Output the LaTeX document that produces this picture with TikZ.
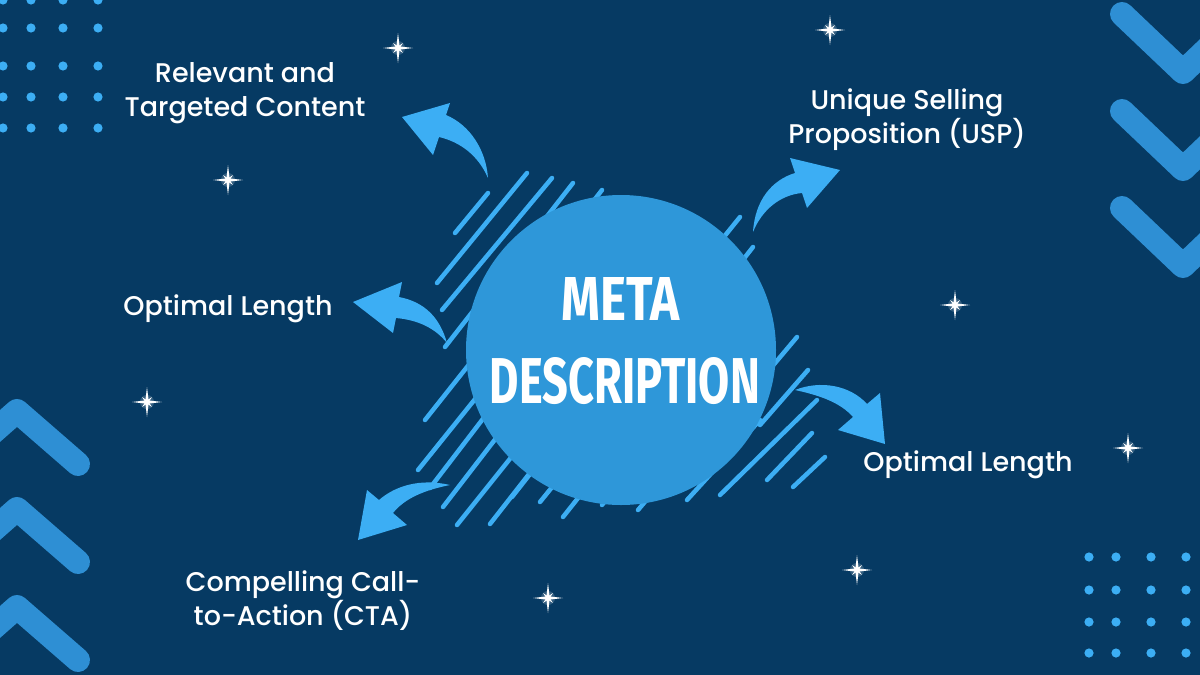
\documentclass[tikz,border=0pt]{standalone}
\usepackage{fontspec}
\setmainfont{Poppins}[UprightFont={* Medium}]
\newfontfamily\titlefont{Fira Sans}
\definecolor{bg}{HTML}{063A63}
\definecolor{disc}{HTML}{2E97D9}
\definecolor{bright}{HTML}{3CAEF4}
\definecolor{chev}{HTML}{2E8FD4}
\tikzset{
  hatch/.style={draw=bright, line width=4.5pt, line cap=round},
  chevron/.style={draw=chev, line width=24pt, line cap=round, line join=round},
  dotmark/.style={fill=bright},
  curvarrow/.style={fill=bright},
  label/.style={text=white, align=center, font=\fontsize{27}{34}\selectfont},
  sparkle/.pic={
    \fill[white,opacity=0.18] (0,0) circle (7);
    \fill[white] (0,-15) -- (1.6,-1.6) -- (15,0) -- (1.6,1.6) -- (0,15) -- (-1.6,1.6) -- (-15,0) -- (-1.6,-1.6) -- cycle;
    \fill[white,rotate=45] (0,-7) -- (1.2,-1.2) -- (7,0) -- (1.2,1.2) -- (0,7) -- (-1.2,1.2) -- (-7,0) -- (-1.2,-1.2) -- cycle;
    \fill[white] (0,0) circle (2.6);
  }
}
\begin{document}
\begin{tikzpicture}[x=1pt,y=-1pt]
\useasboundingbox (0,0) rectangle (1200,675);
\fill[bg] (0,0) rectangle (1200,675);

% dot grids
\foreach \x in {3,31,63,98}{
  \foreach \y in {0,28,66,97,128}{
    \fill[dotmark] (\x,\y) circle (4.6);
  }
}
\foreach \x in {1089,1116,1151,1186}{
  \foreach \y in {557,590,622,653}{
    \fill[dotmark] (\x,\y) circle (4.6);
  }
}

% chevrons
\foreach \y in {0,97,194}{
  \draw[chevron] (1122,14+\y) -- (1183,72+\y) -- (1250,8+\y);
}
\foreach \y in {0,98,196}{
  \draw[chevron] (-50,470+\y) -- (17,411+\y) -- (78,464+\y);
}

% hatch strokes
\draw[hatch] (455,233) -- (488,193);
\draw[hatch] (437,283) -- (527,173);
\draw[hatch] (442,310) -- (552,178);
\draw[hatch] (445,347) -- (573,183);
\draw[hatch] (585,212) -- (602,190);
\draw[hatch] (425,420) -- (490,338);
\draw[hatch] (418,470) -- (500,368);
\draw[hatch] (430,488) -- (505,390);
\draw[hatch] (443,507) -- (510,420);
\draw[hatch] (457,525) -- (525,440);
\draw[hatch] (490,524) -- (540,460);
\draw[hatch] (512,497) -- (545,455);
\draw[hatch] (540,502) -- (570,465);
\draw[hatch] (563,517) -- (590,483);
\draw[hatch] (602,505) -- (620,482);
\draw[hatch] (638,510) -- (655,490);
\draw[hatch] (687,500) -- (760,420);
\draw[hatch] (720,495) -- (817,400);
\draw[hatch] (767,480) -- (812,433);
\draw[hatch] (793,487) -- (825,457);
\draw[hatch] (797,337) -- (765,375);
\draw[hatch] (808,370) -- (760,425);
\draw[hatch] (740,217) -- (715,248);
\draw[hatch] (753,247) -- (735,270);

% curved arrows
\fill[curvarrow] (488,178) .. controls (486,150) and (470,125) .. (446,115) -- (450,103) -- (402,117) -- (433,155) -- (439,137) .. controls (460,142) and (478,155) .. cycle;
\fill[curvarrow] (447,343) .. controls (440,318) and (425,302) .. (399,297) -- (402,282) -- (353,302) -- (393,333) -- (396,318) .. controls (418,320) and (435,328) .. cycle;
\fill[curvarrow] (753,232) .. controls (755,200) and (772,180) .. (795,173) -- (790,158) -- (840,170) -- (807,208) -- (802,193) .. controls (780,195) and (762,210) .. cycle;
\fill[curvarrow] (795,390) .. controls (820,380) and (850,385) .. (867,404) -- (880,393) -- (885,444) -- (838,430) -- (853,417) .. controls (840,402) and (818,395) .. cycle;
\fill[curvarrow] (450,485) .. controls (420,478) and (395,486) .. (379,500) -- (367,490) -- (358,540) -- (407,525) -- (393,513) .. controls (405,498) and (425,490) .. cycle;

% central disc
\node[circle, fill=disc, minimum size=310pt, inner sep=0pt] (core) at (621,350) {};
\node[text=white, anchor=base, inner sep=0pt] (meta) at (621,320) {\resizebox{118pt}{43pt}{\titlefont\bfseries META}};
\node[text=white, anchor=base, inner sep=0pt] (desc) at (625,403) {\resizebox{270pt}{46pt}{\titlefont\bfseries DESCRIPTION}};

% labels
\node[label] (relevant) at (245,93) {Relevant and\\Targeted Content};
\node[label] (usp) at (907,120) {Unique Selling\\Proposition (USP)};
\node[label] (lenL) at (228,309) {Optimal Length};
\node[label] (lenR) at (968,465) {Optimal Length};
\node[label] (cta) at (303,601) {Compelling Call-\\to-Action (CTA)};

% sparkles
\foreach \p in {(398,48),(830,30),(228,180),(955,305),(147,402),(1128,448),(857,570),(548,598)}{
  \pic at \p {sparkle};
}
\end{tikzpicture}
\end{document}
